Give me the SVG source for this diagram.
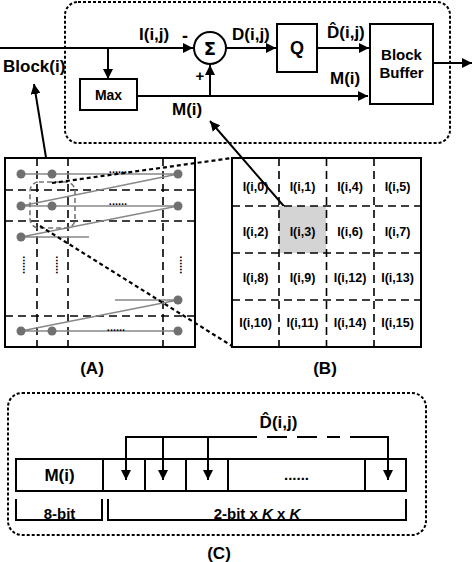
<svg xmlns="http://www.w3.org/2000/svg" width="474" height="562" viewBox="0 0 474 562">
<defs>
<marker id="ah" viewBox="0 0 10 10" refX="10" refY="5" markerWidth="10" markerHeight="10" markerUnits="userSpaceOnUse" orient="auto">
<path d="M0,0 L10,5 L0,10 z" fill="#000"/>
</marker>
</defs>
<style>
text{font-family:"Liberation Sans",Arial,sans-serif;font-weight:bold;fill:#000}
.box{fill:#fff;stroke:#000;stroke-width:2}
.ln{fill:none;stroke:#000;stroke-width:2}
.arr{fill:none;stroke:#000;stroke-width:2;marker-end:url(#ah)}
.dot{fill:none;stroke:#000;stroke-width:2;stroke-dasharray:3 2}
.grid{fill:none;stroke:#000;stroke-width:1.6;stroke-dasharray:8 5}
.gl{fill:none;stroke:#888;stroke-width:1.5}
.gd{fill:#707070}
.zoomln{fill:none;stroke:#000;stroke-width:2.2;stroke-dasharray:4 3}
.lb{font-size:17px}
.cl{font-size:12.5px;text-anchor:middle}
.mid{text-anchor:middle}
</style>

<!-- Top: encoder -->
<g id="encoder-frame"><rect class="dot" x="65" y="2" width="385" height="141" rx="13"/></g>

<g id="connectors">
<path class="arr" d="M0,48 H193"/>
<path class="arr" d="M108,48 V79"/>
<path class="arr" d="M137,96 H368"/>
<path class="arr" d="M210,96 V65"/>
<path class="arr" d="M226,48 H276"/>
<path class="arr" d="M317,48 H369"/>
<path class="arr" d="M433,63 H472"/>
<path class="arr" d="M50,182 L34,84"/>
<path class="arr" d="M302,227 L210,121"/>
</g>

<g id="max"><rect class="box" x="80" y="79" width="57" height="31"/><text x="108.5" y="100" class="mid" font-size="14">Max</text></g>
<g id="sum"><circle class="box" cx="210" cy="48" r="16"/><text x="210" y="54.5" class="mid" font-size="18" font-weight="normal" style="font-family:'DejaVu Sans',sans-serif">Σ</text></g>
<g id="q"><rect class="box" x="277" y="24" width="40" height="48"/><text x="297" y="54" class="mid" font-size="18">Q</text></g>
<g id="buffer"><rect class="box" x="370" y="24" width="63" height="80"/><text x="401.5" y="60" class="mid" font-size="15">Block</text><text x="401.5" y="78" class="mid" font-size="15">Buffer</text></g>

<g id="top-labels">
<text x="139" y="40" class="lb">I(i,j)</text>
<text x="185" y="42" class="mid" font-size="18">-</text>
<text x="200" y="81" class="mid" font-size="15">+</text>
<text x="232" y="40" class="lb">D(i,j)</text>
<text x="327" y="38" class="lb">D̂(i,j)</text>
<text x="330" y="84" class="lb">M(i)</text>
<text x="172" y="115" class="lb">M(i)</text>
<text x="3" y="72" class="lb">Block(i)</text>
</g>

<!-- (A) -->
<g id="panel-a">
<rect class="box" x="5" y="158" width="190" height="189"/>
<path class="grid" d="M37,158 V347 M68,158 V347 M163,158 V347 M5,190 H195 M5,221 H195 M5,316 H195"/>
<path class="gl" d="M21,174 H178 M21,206 L178,174 M21,206 H178 M21,237 L178,206 M21,237 H89 M115,300 H178 M21,331 L178,300 M21,331 H178"/>
<g class="gd">
<circle cx="21" cy="174" r="4.5"/><circle cx="52" cy="174" r="4.5"/><circle cx="178" cy="174" r="4.5"/>
<circle cx="21" cy="206" r="4.5"/><circle cx="52" cy="206" r="4.5"/><circle cx="178" cy="206" r="4.5"/>
<circle cx="21" cy="237" r="4.5"/>
<circle cx="178" cy="300" r="4.5"/>
<circle cx="21" cy="331" r="4.5"/><circle cx="52" cy="331" r="4.5"/><circle cx="178" cy="331" r="4.5"/>
</g>
<text x="118" y="173" class="mid" font-size="11">......</text>
<text x="118" y="205" class="mid" font-size="11">......</text>
<text x="116" y="331" class="mid" font-size="11">......</text>
<text transform="translate(23,265) rotate(90)" class="mid" font-size="11">......</text>
<text transform="translate(56,265) rotate(90)" class="mid" font-size="11">......</text>
<text transform="translate(180,265) rotate(90)" class="mid" font-size="11">......</text>
<rect x="30" y="182" width="45" height="46" rx="9" fill="none" stroke="#777" stroke-width="1.6" stroke-dasharray="5 3"/>
<path class="zoomln" d="M52,183 L232,158 M40,226 L232,346"/>
<text x="92" y="374" class="mid" font-size="17">(A)</text>
</g>

<!-- (B) -->
<g id="panel-b">
<rect x="279" y="206" width="47" height="47" fill="#d4d4d4"/>
<path class="grid" d="M279,158 V347 M326.5,158 V347 M374,158 V347 M232,206 H421 M232,253 H421 M232,300 H421"/>
<rect x="232" y="158" width="189" height="189" fill="none" stroke="#000" stroke-width="2"/>
<text x="255.5" y="191" class="cl">I(i,0)</text><text x="302.5" y="191" class="cl">I(i,1)</text><text x="350" y="191" class="cl">I(i,4)</text><text x="397.5" y="191" class="cl">I(i,5)</text>
<text x="255.5" y="236" class="cl">I(i,2)</text><text x="302.5" y="236" class="cl">I(i,3)</text><text x="350" y="236" class="cl">I(i,6)</text><text x="397.5" y="236" class="cl">I(i,7)</text>
<text x="255.5" y="282" class="cl">I(i,8)</text><text x="302.5" y="282" class="cl">I(i,9)</text><text x="350" y="282" class="cl">I(i,12)</text><text x="397.5" y="282" class="cl">I(i,13)</text>
<text x="255.5" y="327" class="cl">I(i,10)</text><text x="302.5" y="327" class="cl">I(i,11)</text><text x="350" y="327" class="cl">I(i,14)</text><text x="397.5" y="327" class="cl">I(i,15)</text>
<text x="325" y="374" class="mid" font-size="17">(B)</text>
</g>

<!-- (C) -->
<g id="panel-c">
<rect class="dot" x="8" y="393" width="418" height="142" rx="14"/>
<rect class="box" x="16" y="459" width="390" height="32"/>
<path class="ln" d="M103,459 V491 M145,459 V491 M186,459 V491 M228,459 V491 M365,459 V491"/>
<text x="59.5" y="481" class="mid" font-size="17">M(i)</text>
<text x="296.5" y="480" class="mid" font-size="15">......</text>
<path class="ln" d="M126,437 H257 M267,437 H287 M297,437 H317 M327,437 H340 M350,437 H388"/>
<path class="arr" d="M126,436 V480"/>
<path class="arr" d="M163,437 V480"/>
<path class="arr" d="M208,436 V480"/>
<path class="arr" d="M388,436 V480"/>
<text x="278.5" y="428" class="mid" font-size="17">D̂(i,j)</text>
<path class="ln" d="M16,499 V520 H102 V499 M108,499 V520 H406 V499"/>
<text x="59.5" y="519" class="mid" font-size="15">8-bit</text>
<text x="257" y="519" class="mid" font-size="15">2-bit x <tspan font-style="italic">K</tspan> x <tspan font-style="italic">K</tspan></text>
<text x="219" y="559" class="mid" font-size="17">(C)</text>
</g>
</svg>
